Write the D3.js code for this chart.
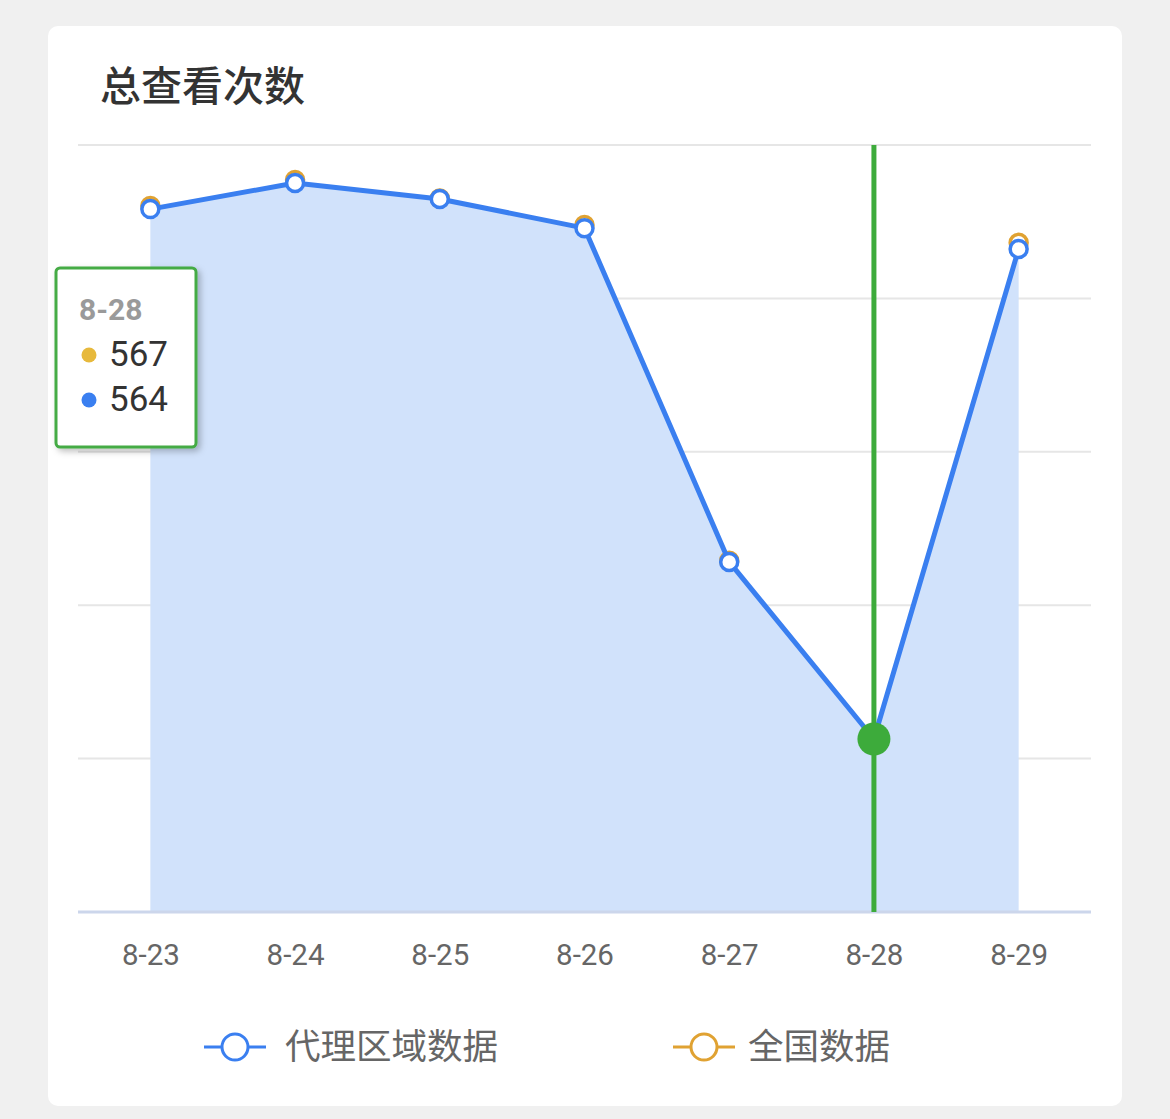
<!DOCTYPE html>
<html>
<head>
<meta charset="utf-8">
<script src="https://cdn.jsdelivr.net/npm/d3@7"></script>
<style>
  body { margin: 0; background: #f0f0f0; }
  svg { display: block; }
</style>
</head>
<body>
<script>
var w = 1170;
var h = 1119;

// data
var dates = ["8-23", "8-24", "8-25", "8-26", "8-27", "8-28", "8-29"];
var agentData = [2291, 2376, 2324, 2229, 1141, 564, 2161];
var nationData = [2301, 2386, 2326, 2239, 1145, 567, 2181];
var yTicks = [0, 500, 1000, 1500, 2000, 2500];
var seriesNames = ["代理区域数据", "全国数据"];
var hoverIndex = 5;

var blue = "#3a7ff0";
var orange = "#e0a232";
var green = "#3dab3b";
var cjk = "'Noto Sans CJK SC', sans-serif";
var latin = "Roboto, 'Noto Sans', sans-serif";

var svg = d3.select("body")
  .append("svg")
  .attr("width", w)
  .attr("height", h);

// card
svg.append("rect")
  .attr("x", 48).attr("y", 26)
  .attr("width", 1074).attr("height", 1080)
  .attr("rx", 10)
  .attr("fill", "#fff");

svg.append("text")
  .attr("x", 100).attr("y", 101)
  .attr("font-family", cjk)
  .attr("font-size", 41)
  .attr("font-weight", 500)
  .attr("fill", "#333")
  .text("总查看次数");

var x = d3.scalePoint()
  .domain(dates)
  .range([78, 1091])
  .padding(0.5);

var y = d3.scaleLinear()
  .domain([0, 2500])
  .range([912, 145]);

// grid
svg.selectAll(".grid")
  .data(yTicks.slice(1))
  .enter()
  .append("line")
  .attr("class", "grid")
  .attr("x1", 78).attr("x2", 1091)
  .attr("y1", function(d) { return y(d); })
  .attr("y2", function(d) { return y(d); })
  .attr("stroke", "#e6e6e6")
  .attr("stroke-width", 2);

// area under agent series
var area = d3.area()
  .x(function(d, i) { return x(dates[i]); })
  .y0(y(0))
  .y1(function(d) { return y(d); });

svg.append("path")
  .datum(agentData)
  .attr("d", area)
  .attr("fill", "#d1e2fb");

// x axis baseline + labels
svg.append("line")
  .attr("x1", 78).attr("x2", 1091)
  .attr("y1", y(0)).attr("y2", y(0))
  .attr("stroke", "#ccd6eb")
  .attr("stroke-width", 3);

var xAxis = d3.axisBottom(x).tickSize(0).tickPadding(0);
var gx = svg.append("g")
  .attr("transform", "translate(0," + y(0) + ")")
  .call(xAxis);
gx.select(".domain").remove();
gx.selectAll("text")
  .attr("dy", 0)
  .attr("y", 53)
  .attr("font-family", latin)
  .attr("font-size", 29.5)
  .attr("fill", "#666");

// hover line
svg.append("line")
  .attr("x1", x(dates[hoverIndex])).attr("x2", x(dates[hoverIndex]))
  .attr("y1", y(2500)).attr("y2", y(0))
  .attr("stroke", green)
  .attr("stroke-width", 5);

var line = d3.line()
  .x(function(d, i) { return x(dates[i]); })
  .y(function(d) { return y(d); });

// the nation line sits under the agent line, only its markers peek out
function drawSeries(data, color, showLine) {
  if (showLine) {
    svg.append("path")
      .datum(data)
      .attr("d", line)
      .attr("fill", "none")
      .attr("stroke", color)
      .attr("stroke-width", 5)
      .attr("stroke-linejoin", "round");
  }
  svg.append("g")
    .selectAll("circle")
    .data(data)
    .enter()
    .filter(function(d, i) { return i != hoverIndex; })
    .append("circle")
    .attr("cx", function(d) { return x(dates[data.indexOf(d)]); })
    .attr("cy", function(d) { return y(d); })
    .attr("r", 8.5)
    .attr("fill", "#fff")
    .attr("stroke", color)
    .attr("stroke-width", 3.5);
}

drawSeries(nationData, orange, false);
drawSeries(agentData, blue, true);

// hover marker
svg.append("circle")
  .attr("cx", x(dates[hoverIndex]))
  .attr("cy", y(agentData[hoverIndex]))
  .attr("r", 16.5)
  .attr("fill", green);

// tooltip
var defs = svg.append("defs");
var f = defs.append("filter").attr("id", "shadow")
  .attr("x", "-20%").attr("y", "-20%").attr("width", "140%").attr("height", "140%");
f.append("feDropShadow")
  .attr("dx", 3).attr("dy", 3).attr("stdDeviation", 3)
  .attr("flood-color", "#000").attr("flood-opacity", 0.25);

var tip = svg.append("g");
tip.append("rect")
  .attr("x", 56).attr("y", 268)
  .attr("width", 140).attr("height", 179)
  .attr("rx", 4)
  .attr("fill", "#fff")
  .attr("stroke", "#44ab44")
  .attr("stroke-width", 3)
  .attr("filter", "url(#shadow)");
tip.append("text")
  .attr("x", 79).attr("y", 320)
  .attr("font-family", latin)
  .attr("font-size", 30)
  .attr("font-weight", "bold")
  .attr("fill", "#9a9a9a")
  .text(dates[hoverIndex]);

var tipRows = [
  { v: nationData[hoverIndex], c: "#e7b93c" },
  { v: agentData[hoverIndex], c: blue }
];
tipRows.forEach(function(r, i) {
  tip.append("circle")
    .attr("cx", 89).attr("cy", 355 + i * 45)
    .attr("r", 7.5)
    .attr("fill", r.c);
  tip.append("text")
    .attr("x", 109).attr("y", 366 + i * 45)
    .attr("font-family", latin)
    .attr("font-size", 35)
    .attr("fill", "#333")
    .text(r.v);
});

// legend
var legendItems = [
  { name: seriesNames[0], color: blue, x: 204, tx: 81 },
  { name: seriesNames[1], color: orange, x: 673, tx: 75 }
];
legendItems.forEach(function(d) {
  var g = svg.append("g").attr("transform", "translate(" + d.x + ",1047)");
  g.append("line")
    .attr("x1", 0).attr("x2", 62)
    .attr("stroke", d.color)
    .attr("stroke-width", 3);
  g.append("circle")
    .attr("cx", 31).attr("r", 13)
    .attr("fill", "#fff")
    .attr("stroke", d.color)
    .attr("stroke-width", 3);
  g.append("text")
    .attr("x", d.tx).attr("y", 12)
    .attr("font-family", cjk)
    .attr("font-size", 35.5)
    .attr("fill", "#666")
    .text(d.name);
});
</script>
</body>
</html>
